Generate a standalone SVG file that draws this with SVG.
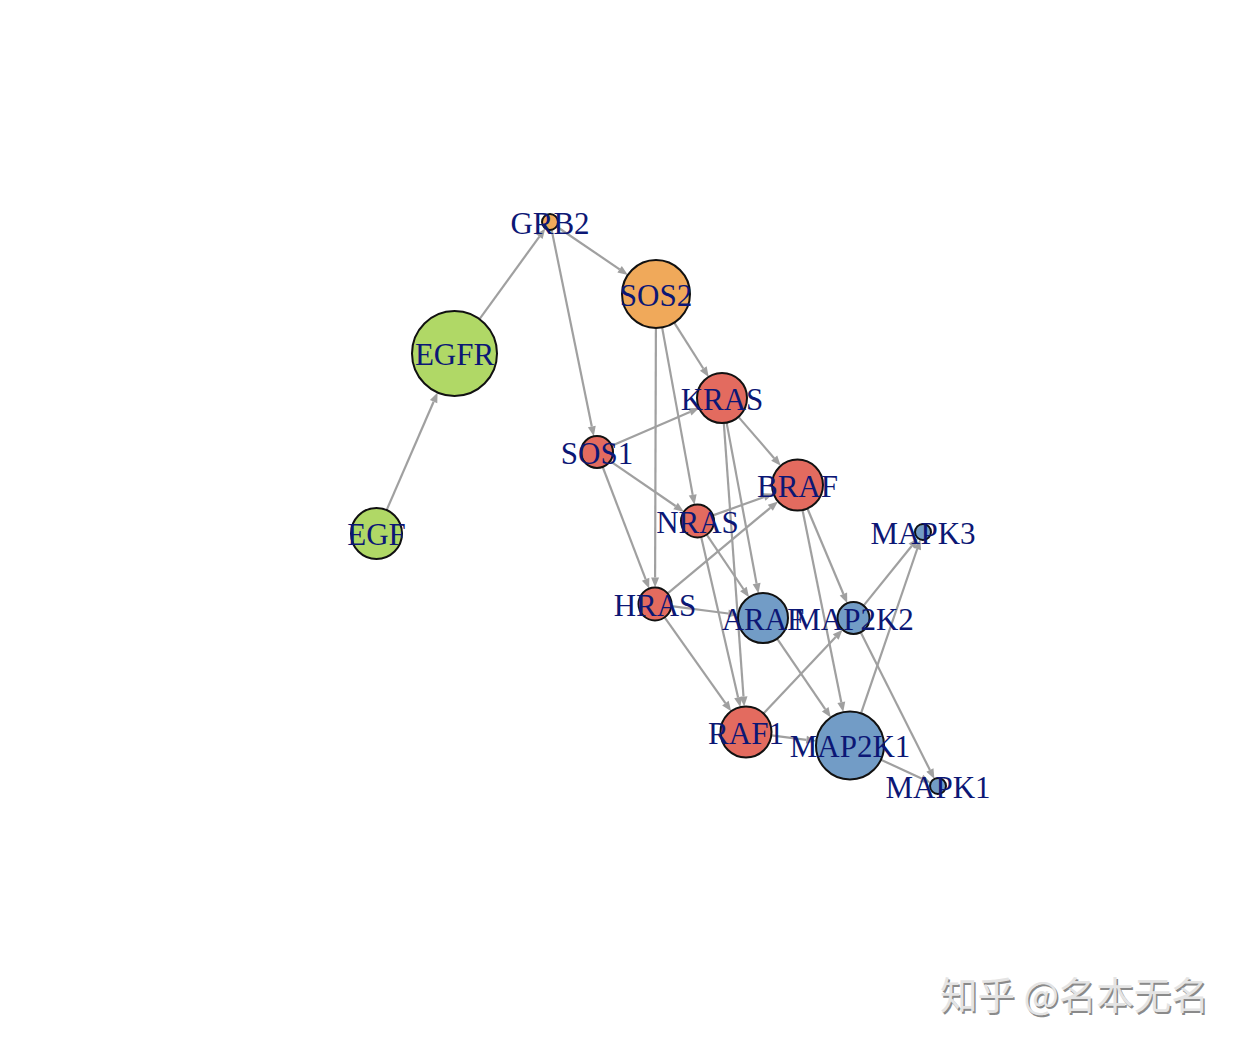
<svg xmlns="http://www.w3.org/2000/svg" width="1240" height="1046" viewBox="0 0 1240 1046">
<style>
.e{stroke:#A0A0A0;stroke-width:2.2;fill:none;marker-end:url(#ah)}
.n{stroke:#111;stroke-width:2}
.g{fill:#B0D866}.o{fill:#F0A95A}.r{fill:#E36B5F}.b{fill:#729CC6}
.t{font-family:"Liberation Serif",serif;font-size:31px;fill:#0C1775;text-anchor:middle;dominant-baseline:central}
.w{font-family:"Noto Sans CJK SC","Noto Sans",sans-serif;font-size:37.5px}
</style>
<defs>
<marker id="ah" markerUnits="userSpaceOnUse" markerWidth="12" markerHeight="10" refX="0" refY="4" orient="auto" overflow="visible">
<path d="M0,0 L10,4 L0,8 Z" fill="#A0A0A0"/>
</marker>
</defs>
<rect width="1240" height="1046" fill="#fff"/>
<g id="edges">
<line class="e" x1="386.6" y1="510.1" x2="433.6" y2="401.7"/>
<line class="e" x1="479.5" y1="319.1" x2="539.4" y2="236.6"/>
<line class="e" x1="556.6" y1="226.5" x2="619.6" y2="269.3"/>
<line class="e" x1="551.6" y1="229.8" x2="591.8" y2="426.5"/>
<line class="e" x1="674.2" y1="322.7" x2="703.3" y2="368.5"/>
<line class="e" x1="655.9" y1="328" x2="655.1" y2="577.5"/>
<line class="e" x1="662.1" y1="327.4" x2="692.7" y2="494.9"/>
<line class="e" x1="611.7" y1="445.7" x2="689.9" y2="411.9"/>
<line class="e" x1="610.2" y1="461.1" x2="675.6" y2="506"/>
<line class="e" x1="602.7" y1="467" x2="645.6" y2="579.2"/>
<line class="e" x1="738.4" y1="416.9" x2="774.2" y2="458.2"/>
<line class="e" x1="726.6" y1="422.6" x2="756.6" y2="583.6"/>
<line class="e" x1="723.8" y1="422.9" x2="743.5" y2="696.6"/>
<line class="e" x1="713" y1="515.4" x2="764.1" y2="497"/>
<line class="e" x1="706.7" y1="534.7" x2="743.4" y2="589"/>
<line class="e" x1="701.2" y1="537.1" x2="738.1" y2="697.4"/>
<line class="e" x1="667.7" y1="593.4" x2="770.3" y2="507.8"/>
<line class="e" x1="671.4" y1="606.1" x2="728.3" y2="613.5"/>
<line class="e" x1="664.6" y1="617.4" x2="725.4" y2="703.1"/>
<line class="e" x1="807.4" y1="508.5" x2="843.4" y2="594"/>
<line class="e" x1="802.5" y1="510" x2="841.3" y2="702.3"/>
<line class="e" x1="777.1" y1="638.6" x2="825.2" y2="709.2"/>
<line class="e" x1="763.5" y1="713.4" x2="835.7" y2="636.9"/>
<line class="e" x1="771.3" y1="735.3" x2="806.4" y2="739.8"/>
<line class="e" x1="863.6" y1="605.6" x2="911.7" y2="546"/>
<line class="e" x1="860.7" y1="632.3" x2="929.9" y2="770"/>
<line class="e" x1="861" y1="713.3" x2="917.2" y2="549"/>
<line class="e" x1="880.9" y1="759.7" x2="921.6" y2="778.5"/>
</g>
<g id="node-EGF"><circle class="n g" cx="376.5" cy="533.5" r="25.5"/><text class="t" x="376.5" y="534.5">EGF</text></g>
<g id="node-EGFR"><circle class="n g" cx="454.5" cy="353.5" r="42.5"/><text class="t" x="454.5" y="354.5">EGFR</text></g>
<g id="node-GRB2"><circle class="n o" cx="550" cy="222" r="8"/><text class="t" x="550" y="223">GRB2</text></g>
<g id="node-SOS2"><circle class="n o" cx="656" cy="294" r="34"/><text class="t" x="656" y="295">SOS2</text></g>
<g id="node-SOS1"><circle class="n r" cx="597" cy="452" r="16"/><text class="t" x="597" y="453">SOS1</text></g>
<g id="node-KRAS"><circle class="n r" cx="722" cy="398" r="25"/><text class="t" x="722" y="399">KRAS</text></g>
<g id="node-NRAS"><circle class="n r" cx="697.5" cy="521" r="16.5"/><text class="t" x="697.5" y="522">NRAS</text></g>
<g id="node-HRAS"><circle class="n r" cx="655" cy="604" r="16.5"/><text class="t" x="655" y="605">HRAS</text></g>
<g id="node-BRAF"><circle class="n r" cx="797.5" cy="485" r="25.5"/><text class="t" x="797.5" y="486">BRAF</text></g>
<g id="node-ARAF"><circle class="n b" cx="763" cy="618" r="25"/></g>
<g id="node-MAP2K2"><circle class="n b" cx="853.5" cy="618" r="16"/></g>
<g id="node-RAF1"><circle class="n r" cx="746" cy="732" r="25.5"/><text class="t" x="746" y="733">RAF1</text></g>
<g id="node-MAP2K1"><circle class="n b" cx="850" cy="745.5" r="34"/><text class="t" x="850" y="746.5">MAP2K1</text></g>
<g id="node-MAPK3"><circle class="n b" cx="923" cy="532" r="8"/><text class="t" x="923" y="533">MAPK3</text></g>
<g id="node-MAPK1"><circle class="n b" cx="938" cy="786" r="8"/><text class="t" x="938" y="787">MAPK1</text></g>
<g id="labels-ARAF-MAP2K2"><text class="t" x="763" y="619">ARAF</text><text class="t" x="853.5" y="619">MAP2K2</text></g>
<g id="watermark">
<text class="w" x="941.5" y="1010.5" fill="#8a8a8a">知乎 @名本无名</text>
<text class="w" x="940" y="1009" fill="#e4e4e4">知乎 @名本无名</text>
</g>
</svg>
